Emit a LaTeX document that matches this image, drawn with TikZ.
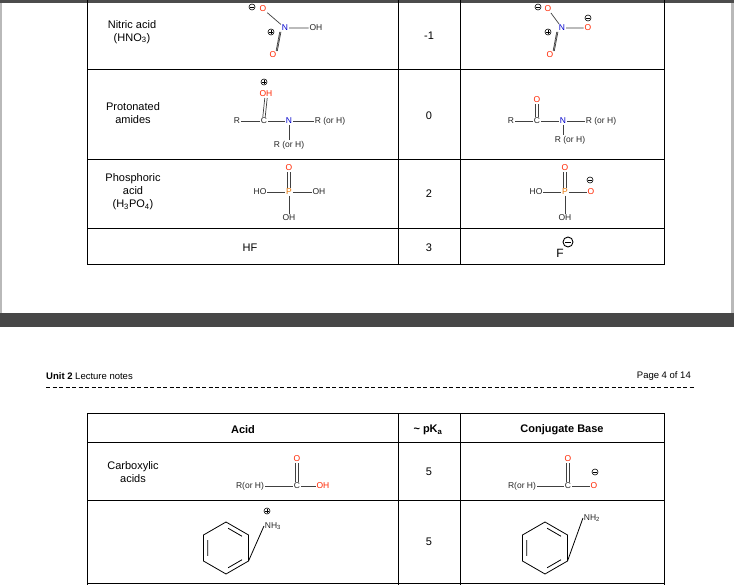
\documentclass[tikz,border=0pt]{standalone}
\usepackage{fontspec}
\setmainfont{Liberation Sans}
\usetikzlibrary{calc}
\begin{document}
\begin{tikzpicture}[x=1pt,y=-1pt,
  lab/.style={font=\fontsize{11}{13}\selectfont,align=center,inner sep=0},
  atm/.style={font=\fontsize{8.5}{9}\selectfont,inner sep=0.8pt,text=black!85},
  ox/.style={atm,text=red!70!orange},
  ni/.style={atm,text=blue!80!black},
  ph/.style={atm,text=orange!90!black},
  bd/.style={line width=0.7pt,black!75},
  tb/.style={line width=1pt},
  chg/.style={circle,draw,line width=0.6pt,inner sep=0,minimum size=6pt}]
\useasboundingbox (0,0) rectangle (734,585);
% page backgrounds
\fill[gray!55] (0,0) rectangle (734,585);
\fill[white] (2,3) rectangle (731,313);
\fill[black!70] (0,0) rectangle (734,3);
\fill[black!72] (0,313) rectangle (734,327);
\fill[white] (0,327) rectangle (734,585);
\newcommand{\pl}[2]{\node[chg] (p#1) at #2 {}; \draw[line width=0.6pt] ([xshift=-2pt]p#1.center)--([xshift=2pt]p#1.center) ([yshift=-2pt]p#1.center)--([yshift=2pt]p#1.center);}
\newcommand{\mi}[2]{\node[chg] (m#1) at #2 {}; \draw[line width=0.6pt] ([xshift=-2pt]m#1.center)--([xshift=2pt]m#1.center);}
% ---- table 1
\draw[tb] (87,0)--(87,265)--(664,265)--(664,0);
\draw[tb] (398,0)--(398,265) (460,0)--(460,265);
\foreach \y in {70,160,229} \draw[tb] (87,\y)--(664,\y);
\node[lab] (t1) at (132,32) {Nitric acid\\(HNO\textsubscript{3})};
\node[lab] (t2) at (133,113) {Protonated\\amides};
\node[lab] (t3) at (133,192) {Phosphoric\\acid\\(H\textsubscript{3}PO\textsubscript{4})};
\node[lab] (t4) at (250,248) {HF};
\node[lab] (k1) at (429,36) {-1};
\node[lab] (k2) at (429,116) {0};
\node[lab] (k3) at (429,194) {2};
\node[lab] (k4) at (429,248) {3};
% nitric acid
\node[ox] (a1) at (263,9) {O}; \node[ni] (a2) at (285,28) {N}; \node[atm] (a3) at (316,28) {OH}; \node[ox] (a4) at (273,55) {O};
\draw[bd] (a1)--(a2) (a2)--(a3);
\draw[bd] ([xshift=-1.2pt]a2.south west)--([xshift=-1.2pt]a4.north east) (a2.south west)--(a4.north east);
\mi{a}{(252,7)} \pl{a}{(271,32)}
\node[ox] (b1) at (548,9) {O}; \node[ni] (b2) at (562,28) {N}; \node[ox] (b3) at (588,28) {O}; \node[ox] (b4) at (550,55) {O};
\draw[bd] (b1)--(b2) (b2)--(b3);
\draw[bd] ([xshift=-1.2pt]b2.south west)--([xshift=-1.2pt]b4.north east) (b2.south west)--(b4.north east);
\mi{b}{(538,7)} \pl{b}{(548,32)} \mi{c}{(588,18)}
% protonated amides
\node[ox] (c1) at (266,94) {OH}; \node[atm] (c2) at (264,121) {C}; \node[atm] (c3) at (237,121) {R};
\node[ni] (c4) at (289,121) {N}; \node[atm] (c5) at (330,121) {R (or H)}; \node[atm] (c6) at (289,145) {R (or H)};
\draw[bd] ([xshift=-1.2pt]c1.south)--([xshift=-1.2pt]c2.north) ([xshift=1.2pt]c1.south)--([xshift=1.2pt]c2.north);
\draw[bd] (c3)--(c2) (c2)--(c4) (c4)--(c5) (c4)--(c6);
\pl{d}{(264,82)}
\node[ox] (d1) at (537,100) {O}; \node[atm] (d2) at (537,121) {C}; \node[atm] (d3) at (511,121) {R};
\node[ni] (d4) at (563,121) {N}; \node[atm] (d5) at (601,121) {R (or H)}; \node[atm] (d6) at (570,140) {R (or H)};
\draw[bd] ([xshift=-1.2pt]d1.south)--([xshift=-1.2pt]d2.north) ([xshift=1.2pt]d1.south)--([xshift=1.2pt]d2.north);
\draw[bd] (d3)--(d2) (d2)--(d4) (d4)--(d5) (d4)--(d4|-d6.north);
% phosphoric
\node[ox] (e1) at (289,168) {O}; \node[ph] (e2) at (289,192) {P}; \node[atm] (e3) at (260,192) {HO};
\node[atm] (e4) at (319,192) {OH}; \node[atm] (e5) at (289,218) {OH};
\draw[bd] ([xshift=-1.2pt]e1.south)--([xshift=-1.2pt]e2.north) ([xshift=1.2pt]e1.south)--([xshift=1.2pt]e2.north);
\draw[bd] (e3)--(e2) (e2)--(e4) (e2)--(e5);
\node[ox] (f1) at (565,168) {O}; \node[ph] (f2) at (565,192) {P}; \node[atm] (f3) at (536,192) {HO};
\node[ox] (f4) at (591,192) {O}; \node[atm] (f5) at (565,218) {OH};
\draw[bd] ([xshift=-1.2pt]f1.south)--([xshift=-1.2pt]f2.north) ([xshift=1.2pt]f1.south)--([xshift=1.2pt]f2.north);
\draw[bd] (f3)--(f2) (f2)--(f4) (f2)--(f5);
\mi{f}{(590,180)}
% HF base
\node[lab,font=\fontsize{12}{13}\selectfont] (g1) at (560,253) {F};
\node[circle,draw,line width=0.9pt,inner sep=0,minimum size=10pt] (mg) at (568,242) {};
\draw[line width=0.9pt] ([xshift=-3pt]mg.center)--([xshift=3pt]mg.center);
% ---- page 2
\node[lab,anchor=west,font=\fontsize{9.5}{11}\selectfont] (h1) at (46,376) {\textbf{Unit 2} Lecture notes};
\node[lab,anchor=east,font=\fontsize{9.5}{11}\selectfont] (h2) at (691,376) {Page 4 of 14};
\coordinate (dl) at (46,387); \coordinate (dr) at (695,387);
\draw[line width=0.8pt,dash pattern=on 4pt off 2.5pt] (dl)--(dr);
% table 2
\draw[tb] (87,585)--(87,413)--(664,413)--(664,585);
\draw[tb] (398,413)--(398,585) (460,413)--(460,585);
\foreach \y in {442,500,583} \draw[tb] (87,\y)--(664,\y);
\node[lab] (H1) at (243,430) {\textbf{Acid}};
\node[lab] (H2) at (428,430) {\textbf{\textasciitilde{} pK\textsubscript{a}}};
\node[lab] (H3) at (562,430) {\textbf{Conjugate Base}};
\node[lab] (t5) at (133,472) {Carboxylic\\acids};
\node[lab] (k5) at (429,472) {5};
\node[lab] (k6) at (429,542) {5};
% carboxylic
\node[ox] (i1) at (297,459) {O}; \node[atm] (i2) at (297,486) {C}; \node[atm] (i3) at (250,486) {R(or H)}; \node[ox] (i4) at (323,486) {OH};
\draw[bd] ([xshift=-1.2pt]i1.south)--([xshift=-1.2pt]i2.north) ([xshift=1.2pt]i1.south)--([xshift=1.2pt]i2.north);
\draw[bd] (i3)--(i2) (i2)--(i4);
\node[ox] (j1) at (568,459) {O}; \node[atm] (j2) at (568,486) {C}; \node[atm] (j3) at (522,486) {R(or H)}; \node[ox] (j4) at (594,486) {O};
\draw[bd] ([xshift=-1.2pt]j1.south)--([xshift=-1.2pt]j2.north) ([xshift=1.2pt]j1.south)--([xshift=1.2pt]j2.north);
\draw[bd] (j3)--(j2) (j2)--(j4);
\mi{j}{(595,472)}
% anilinium / aniline
\foreach \cx/\nm in {226/L,545/R}{
  \foreach \i in {0,...,5} {
    \coordinate (\nm\i) at ($(\cx,548)+(90+60*\i:26)$);
    \coordinate (\nm i\i) at ($(\cx,548)+(90+60*\i:21)$);
  }
  \draw[line width=0.8pt] (\nm0)--(\nm1)--(\nm2)--(\nm3)--(\nm4)--(\nm5)--cycle;
  \draw[line width=0.8pt] ($(\nm i1)!0.12!(\nm i2)$)--($(\nm i1)!0.88!(\nm i2)$)
     ($(\nm i3)!0.12!(\nm i4)$)--($(\nm i3)!0.88!(\nm i4)$)
     ($(\nm i5)!0.12!(\nm i0)$)--($(\nm i5)!0.88!(\nm i0)$);
}
\node[atm] (n1) at (273,526) {NH\textsubscript{3}};
\node[atm] (n2) at (592,518) {NH\textsubscript{2}};
\draw[line width=0.8pt] (L5)--(n1.west);
\draw[line width=0.8pt] (R5)--(n2.west);
\pl{n}{(267,511)}
\end{tikzpicture}
\end{document}
